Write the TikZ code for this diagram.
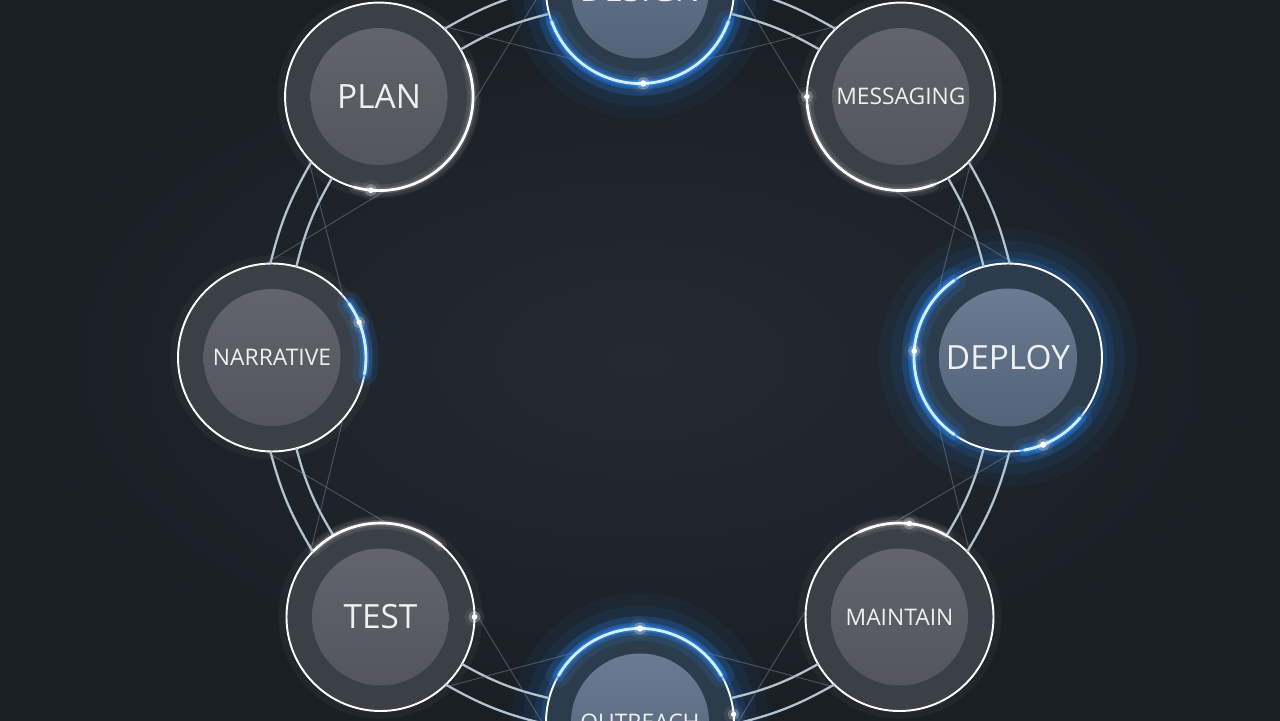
\documentclass[tikz,border=0pt]{standalone}
\usepackage{fontspec}
\setmainfont{Open Sans}
\usetikzlibrary{positioning}

\definecolor{bgcenter}{HTML}{232A31}
\definecolor{bgedge}{HTML}{1A1F24}
\definecolor{ringgray}{HTML}{3B4047}
\definecolor{disktop}{HTML}{64686E}
\definecolor{diskbottom}{HTML}{50545A}
\definecolor{ringblue}{HTML}{2D3C4C}
\definecolor{bluetop}{HTML}{6E8098}
\definecolor{bluebottom}{HTML}{4E5E72}
\definecolor{trackgray}{HTML}{B4C3D0}
\definecolor{webgray}{HTML}{8797A6}
\definecolor{glowblue}{HTML}{2B8CFF}
\definecolor{rimblue}{HTML}{D2EEFF}
\definecolor{labelwhite}{HTML}{EEF0F2}

\begin{document}
\begin{tikzpicture}
\tikzstyle{stage}=[circle, draw=white, line width=1.1pt, minimum size=3.76cm, inner sep=0pt, outer sep=0pt, text=labelwhite, align=center]
\tikzstyle{graystage}=[stage, fill=ringgray, preaction={draw=white, line width=9pt, opacity=0.04}, path picture={\shade[top color=disktop, bottom color=diskbottom] (path picture bounding box.center) circle (1.37cm);}]
\tikzstyle{bluestage}=[stage, fill=ringblue, preaction={draw=glowblue, line width=40pt, opacity=0.05}, preaction={draw=glowblue, line width=26pt, opacity=0.07}, preaction={draw=glowblue, line width=14pt, opacity=0.1}, preaction={draw=glowblue, line width=6pt, opacity=0.18}, path picture={\shade[top color=bluetop, bottom color=bluebottom] (path picture bounding box.center) circle (1.38cm);}]
\tikzstyle{bigtext}=[font=\fontsize{19}{22}\selectfont]
\tikzstyle{smalltext}=[font=\fontsize{13}{15}\selectfont]
\tikzstyle{track}=[draw=trackgray, line width=1.3pt, bend right=8]
\tikzstyle{web}=[draw=webgray, line width=0.5pt, opacity=0.45]
\tikzstyle{rim}=[draw=rimblue, line width=1.6pt, line cap=round, preaction={draw=glowblue, line width=14pt, opacity=0.12, line cap=round}, preaction={draw=glowblue, line width=7pt, opacity=0.25, line cap=round}, preaction={draw=glowblue, line width=3.5pt, opacity=0.5, line cap=round}]
\tikzstyle{whiterim}=[draw=white, line width=1.5pt, line cap=round, preaction={draw=white, line width=7pt, opacity=0.08, line cap=round}, preaction={draw=white, line width=3.5pt, opacity=0.15, line cap=round}]
\tikzstyle{spark}=[fill=white, preaction={draw=white, line width=8pt, opacity=0.06}, preaction={draw=white, line width=3.5pt, opacity=0.25}]

\useasboundingbox (-12.8,-7.2) rectangle (12.8,7.2);
\clip (-12.8,-7.2) rectangle (12.8,7.2);
\shade[inner color=bgcenter, outer color=bgedge] (-12.8,-7.2) rectangle (12.8,7.2);

\begin{scope}[yshift=0.05cm]
\node[bluestage, bigtext] (deploy) at (0:7.36) {DEPLOY};
\node[graystage, smalltext] (messaging) at (45:7.38) {MESSAGING};
\node[bluestage, bigtext] (design) at (90:7.36) {DESIGN};
\node[graystage, bigtext] (plan) at (135:7.38) {PLAN};
\node[graystage, smalltext] (narrative) at (180:7.36) {NARRATIVE};
\node[graystage, bigtext] (test) at (225:7.34) {TEST};
\node[bluestage, smalltext] (outreach) at (270:7.3) {OUTREACH};
\node[graystage, smalltext] (maintain) at (315:7.34) {MAINTAIN};
\end{scope}

\draw[track] (deploy.105) to (messaging.-60) (deploy.89) to (messaging.-44);
\draw[track] (messaging.150) to (design.-15) (messaging.134) to (design.1);
\draw[track] (design.195) to (plan.30) (design.179) to (plan.46);
\draw[track] (plan.240) to (narrative.75) (plan.224) to (narrative.91);
\draw[track] (narrative.285) to (test.120) (narrative.269) to (test.136);
\draw[track] (test.330) to (outreach.165) (test.314) to (outreach.181);
\draw[track] (outreach.15) to (maintain.210) (outreach.-1) to (maintain.226);
\draw[track] (maintain.60) to (deploy.255) (maintain.44) to (deploy.271);

\draw[web] (deploy.86) -- (messaging.-94) (deploy.139) -- (messaging.-41);
\draw[web] (messaging.131) -- (design.-49) (messaging.184) -- (design.4);
\draw[web] (design.176) -- (plan.-4) (design.229) -- (plan.49);
\draw[web] (plan.221) -- (narrative.41) (plan.274) -- (narrative.94);
\draw[web] (narrative.266) -- (test.86) (narrative.319) -- (test.139);
\draw[web] (test.311) -- (outreach.131) (test.4) -- (outreach.184);
\draw[web] (outreach.-4) -- (maintain.176) (outreach.49) -- (maintain.229);
\draw[web] (maintain.41) -- (deploy.221) (maintain.94) -- (deploy.274);

\draw[rim] (design.200) arc[start angle=200, end angle=340, radius=1.88cm];
\draw[rim] (deploy.125) arc[start angle=125, end angle=235, radius=1.88cm];
\draw[rim] (deploy.280) arc[start angle=280, end angle=320, radius=1.88cm];
\draw[rim] (outreach.30) arc[start angle=30, end angle=150, radius=1.88cm];
\draw[rim] (narrative.-10) arc[start angle=-10, end angle=35, radius=1.88cm];
\draw[whiterim] (plan.255) arc[start angle=255, end angle=380, radius=1.88cm];
\draw[whiterim] (messaging.185) arc[start angle=185, end angle=290, radius=1.88cm];
\draw[whiterim] (test.50) arc[start angle=50, end angle=135, radius=1.88cm];
\draw[whiterim] (maintain.60) arc[start angle=60, end angle=115, radius=1.88cm];

\fill[spark] (plan.265) circle (1.6pt);
\fill[spark] (design.272) circle (1.8pt);
\fill[spark] (messaging.180) circle (1.6pt);
\fill[spark] (deploy.292) circle (1.8pt);
\fill[spark] (deploy.176) circle (1.6pt);
\fill[spark] (narrative.22) circle (1.5pt);
\fill[spark] (test.0) circle (1.6pt);
\fill[spark] (maintain.84) circle (1.6pt);
\fill[spark] (outreach.90) circle (1.8pt);
\fill[spark] (outreach.5) circle (1.5pt);
\end{tikzpicture}
\end{document}
